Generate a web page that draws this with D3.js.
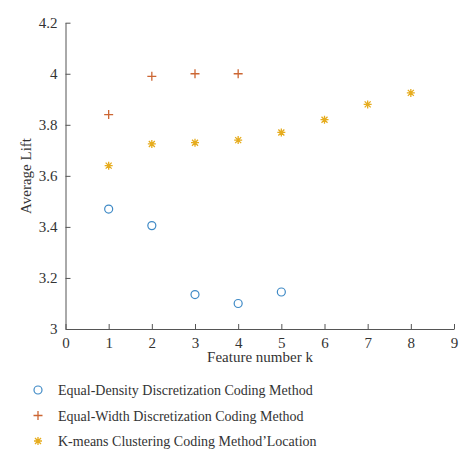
<!DOCTYPE html><html><head><meta charset="utf-8"><script src="https://cdn.jsdelivr.net/npm/d3@7"></script>
<style>body{margin:0;background:#fff}text{font-family:"Liberation Serif","DejaVu Serif",serif;fill:#333}</style></head><body>
<svg id="c" width="474" height="468"></svg>
<script>
const xTicks=[0,1,2,3,4,5,6,7,8,9];
const yTicks=[3,3.2,3.4,3.6,3.8,4,4.2];
const yTickLabels=["3","3.2","3.4","3.6","3.8","4","4.2"];
const equalDensityK=[1,2,3,4,5];
const equalDensity=[3.47,3.405,3.135,3.10,3.145];
const equalWidthK=[1,2,3,4];
const equalWidth=[3.84,3.99,4.0,4.0];
const kmeansK=[1,2,3,4,5,6,7,8];
const kmeans=[3.64,3.725,3.73,3.74,3.77,3.82,3.88,3.925];
const legendLabels=["Equal-Density Discretization Coding Method","Equal-Width Discretization Coding Method","K-means Clustering Coding Method’Location"];
const colors=["#3f8ac6","#cc6633","#e6ac1e"];

const svg=d3.select("#c");
const x=d3.scaleLinear().domain([0,9]).range([65.5,454]);
const y=d3.scaleLinear().domain([3,4.2]).range([329,22.7]);
const ax=svg.append("g").attr("transform","translate(0,329)").call(d3.axisBottom(x).tickValues(xTicks).tickSizeInner(-5).tickSizeOuter(0).tickPadding(8));
const ay=svg.append("g").attr("transform","translate(65.5,0)").call(d3.axisLeft(y).tickValues(yTicks).tickFormat((d,i)=>yTickLabels[i]).tickSizeInner(-5).tickSizeOuter(0).tickPadding(8));
[ax,ay].forEach(g=>{g.selectAll("path,line").attr("stroke","#555");g.selectAll("text").style("font-size","15px").attr("fill","#333");});
svg.append("text").attr("x",260).attr("y",362).attr("text-anchor","middle").style("font-size","15px").text("Feature number k");
svg.append("text").attr("transform","translate(31,176) rotate(-90)").attr("text-anchor","middle").style("font-size","15px").text("Average Lift");

function circle(g,cx,cy,c){g.append("circle").attr("cx",cx).attr("cy",cy).attr("r",4).attr("fill","none").attr("stroke",c).attr("stroke-width",1.2);}
function plus(g,cx,cy,c){g.append("path").attr("d",`M${cx-4.5},${cy}H${cx+4.5}M${cx},${cy-4.5}V${cy+4.5}`).attr("stroke",c).attr("stroke-width",1.3);}
function star(g,cx,cy,c){g.append("path").attr("d",`M${cx-4},${cy}H${cx+4}M${cx},${cy-4}V${cy+4}M${cx-3},${cy-3}L${cx+3},${cy+3}M${cx-3},${cy+3}L${cx+3},${cy-3}`).attr("stroke",c).attr("stroke-width",1.3);}
const g=svg.append("g");
equalDensityK.forEach((k,i)=>circle(g,x(k),y(equalDensity[i]),colors[0]));
equalWidthK.forEach((k,i)=>plus(g,x(k),y(equalWidth[i]),colors[1]));
kmeansK.forEach((k,i)=>star(g,x(k),y(kmeans[i]),colors[2]));
const fns=[circle,plus,star];
legendLabels.forEach((t,i)=>{const ly=390+i*25.5;fns[i](svg,38,ly,colors[i]);
svg.append("text").attr("x",58).attr("y",ly+5).style("font-size","14px").text(t);});
</script></body></html>
